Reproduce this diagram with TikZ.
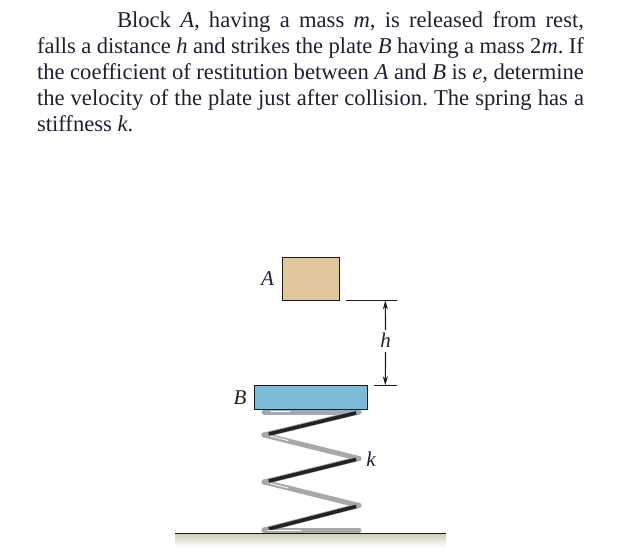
\documentclass[tikz,border=0pt]{standalone}
\usepackage{fontspec}
\setmainfont{Liberation Serif}
\usetikzlibrary{arrows.meta,calc}
\frenchspacing
\definecolor{inkc}{HTML}{1E2030}
\definecolor{blocka}{HTML}{E2C79C}
\definecolor{plateb}{HTML}{7ABBD8}
\definecolor{coilg}{HTML}{A6A8AB}
\definecolor{coild}{HTML}{232325}
\definecolor{groundc}{HTML}{CFCDB6}
\tikzset{
  x=1pt,y=-1pt,
  textline/.style={anchor=base west,inner sep=0pt,outer sep=0pt,text=inkc,font=\fontsize{22.6}{26}\selectfont},
  figlabel/.style={inner sep=0pt,outer sep=0pt,text=inkc,font=\fontsize{21}{24}\selectfont\itshape},
  block/.style={draw=black!90,line width=1.2pt,inner sep=0pt,outer sep=0pt,anchor=north west},
  dimline/.style={draw=black!90,line width=1.2pt},
  dimarrow/.style={dimline,-{Stealth[length=9pt,width=5pt]}},
  coilgray/.style={draw=coilg,line width=5pt,line cap=round},
  coildark/.style={draw=coild,line width=3.6pt,line cap=butt},
  coilshine/.style={draw=white,line width=0.8pt,line cap=round}
}
\begin{document}
\begin{tikzpicture}
\useasboundingbox (0,0) rectangle (622,557);
% problem text
\node[textline] (l1) at (117,27) {\makebox[467pt][s]{Block \textit{A}, having a mass \textit{m}, is released from rest,}};
\node[textline] (l2) at (37,53) {\makebox[547pt][s]{falls a distance \textit{h} and strikes the plate \textit{B} having a mass 2\textit{m}. If}};
\node[textline] (l3) at (37,79) {\makebox[547pt][s]{the coefficient of restitution between \textit{A} and \textit{B} is \textit{e}, determine}};
\node[textline] (l4) at (37,105) {\makebox[547pt][s]{the velocity of the plate just after collision. The spring has a}};
\node[textline] (l5) at (37,131) {stiffness \textit{k}.};
% ground
\shade[top color=groundc,bottom color=white] (175,533.5) rectangle (446,547);
\coordinate (gl) at (175,533.5);
\coordinate (gr) at (446,533.5);
\draw[black!90,line width=1.1pt] (gl) -- (gr);
% spring points
\coordinate (s0) at (264,412);
\coordinate (s1) at (359,412);
\coordinate (s2) at (264,435);
\coordinate (s3) at (359,458.5);
\coordinate (s4) at (264,482);
\coordinate (s5) at (359,505.5);
\coordinate (s6) at (264,530);
\coordinate (s7) at (359,530);
% grey body of all strands
\foreach \a/\b in {s1/s2,s3/s4,s5/s6,s0/s1,s2/s3,s4/s5,s6/s7}{
  \draw[coilgray] (\a) -- (\b);
}
% dark rear strands, stopping short of the grey bends
\foreach \a/\b in {s1/s2,s3/s4,s5/s6}{
  \draw[coildark] ($(\a)!0.03!(\b)+(0,0.2)$) -- ($(\a)!0.95!(\b)+(0,0.2)$);
}
% highlights
\coordinate (h0a) at (271,411.5); \coordinate (h0b) at (290,411.5);
\coordinate (h1a) at (270,436); \coordinate (h1b) at (288,440.5);
\coordinate (h2a) at (270,483.5); \coordinate (h2b) at (288,488);
\coordinate (h3a) at (268,530); \coordinate (h3b) at (301,530);
\draw[coilshine] (h0a) -- (h0b);
\draw[coilshine] (h1a) -- (h1b);
\draw[coilshine] (h2a) -- (h2b);
\draw[coilshine] (h3a) -- (h3b);
% blocks
\node[block,fill=blocka,minimum width=57pt,minimum height=43pt] (A) at (282.5,257.3) {};
\node[block,fill=plateb,minimum width=113.4pt,minimum height=24pt] (B) at (254.3,385.3) {};
% labels
\node[figlabel] (la) at (267.5,278.5) {A};
\node[figlabel] (lb) at (240,397.5) {B};
\node[figlabel] (lk) at (371,459.5) {k};
\node[figlabel] (lh) at (385.5,340.5) {h};
% dimension
\coordinate (t1a) at (346,300.4);
\coordinate (t1b) at (396.7,300.4);
\coordinate (t2a) at (374,385.3);
\coordinate (t2b) at (396.7,385.3);
\coordinate (d1) at (385.3,300.4);
\coordinate (d2) at (385.3,385.3);
\draw[dimline] (t1a) -- (t1b);
\draw[dimline] (t2a) -- (t2b);
\draw[dimarrow] (lh.north |- 0,330) -- (d1);
\draw[dimarrow] (lh.south |- 0,352) -- (d2);
\end{tikzpicture}
\end{document}
